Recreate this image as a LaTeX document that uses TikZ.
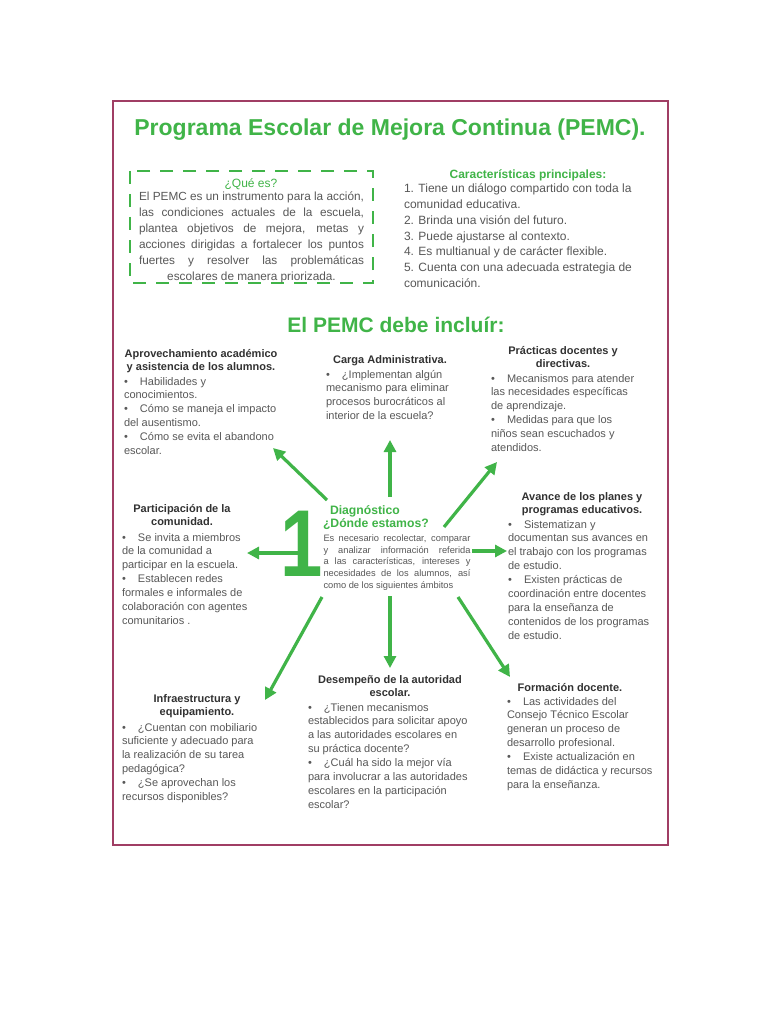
\documentclass[tikz,border=0pt]{standalone}
\usepackage{graphicx}
\usepackage{fontspec}
\setmainfont{Liberation Sans}
\usetikzlibrary{arrows.meta}
\definecolor{pgreen}{RGB}{64,180,72}
\definecolor{pmaroon}{RGB}{160,62,100}
\definecolor{ptxt}{RGB}{88,88,88}
\definecolor{phd}{RGB}{50,50,50}
\newcommand{\bul}{\makebox[16pt][l]{•}}
\newcommand{\jl}[2]{\makebox[#1][s]{#2}}
\begin{document}
\begin{tikzpicture}[x=1pt,y=-1pt,
  every node/.style={inner sep=0pt, outer sep=0pt},
  hdtext/.style={font=\fontsize{11}{13.9}\selectfont\bfseries, text=phd, anchor=base},
  bodytext/.style={font=\fontsize{11}{13.9}\selectfont, text=ptxt, anchor=base west},
  arr/.style={draw=pgreen, line width=3.2pt, -{Triangle[length=12pt,width=12pt]}}
]
\useasboundingbox (0,0) rectangle (768,1024);
\fill[white] (0,0) rectangle (768,1024);
\draw[pmaroon, line width=2.8pt] (113,101) rectangle (668,845);

% title
\node[font=\fontsize{23}{27}\selectfont\bfseries, text=pgreen, anchor=base] (title) at (390,136) {Programa Escolar de Mejora Continua (PEMC).};

% Que es box
\draw[pgreen, line width=2.8pt, dash pattern=on 13pt off 10pt] (130,171) rectangle (373,283);
\node[font=\fontsize{12}{15}\selectfont, text=pgreen, anchor=base] (qtitle) at (251,188) {¿Qué es?};
\node[font=\fontsize{11.8}{15.9}\selectfont, text=ptxt, anchor=base west] (qbody) at (139,201) {\parbox[t]{225pt}{%
\jl{225pt}{El PEMC es un instrumento para la acción,}\\
\jl{225pt}{las condiciones actuales de la escuela,}\\
\jl{225pt}{plantea objetivos de mejora, metas y}\\
\jl{225pt}{acciones dirigidas a fortalecer los puntos}\\
\jl{225pt}{fuertes y resolver las problemáticas}\\
\makebox[225pt][c]{escolares de manera priorizada.}}};

% Caracteristicas
\node[font=\fontsize{12}{15}\selectfont\bfseries, text=pgreen, anchor=base] (ctitle) at (528,179) {Características principales:};
\node[font=\fontsize{12}{15.7}\selectfont, text=ptxt, anchor=base west] (cbody) at (404,193) {\parbox[t]{260pt}{\raggedright
1. Tiene un diálogo compartido con toda la\\
comunidad educativa.\\
2. Brinda una visión del futuro.\\
3. Puede ajustarse al contexto.\\
4. Es multianual y de carácter flexible.\\
5. Cuenta con una adecuada estrategia de\\
comunicación.}};

% subtitle
\node[font=\fontsize{21}{25}\selectfont\bfseries, text=pgreen, anchor=base] (sub) at (396,332) {El PEMC debe incluír:};

% center
\node[font=\fontsize{95}{95}\selectfont\bfseries, text=pgreen, anchor=base west] (one) at (280.5,576) {\scalebox{0.8}[1]{1}\hspace*{-10pt}};
\node[font=\fontsize{12.2}{14}\selectfont\bfseries, text=pgreen, anchor=base west] (diag) at (330,514) {Diagnóstico};
\node[font=\fontsize{12.2}{14}\selectfont\bfseries, text=pgreen, anchor=base west] (donde) at (323,527) {¿Dónde estamos?};
\node[font=\fontsize{9.3}{11.7}\selectfont, text=ptxt, anchor=base west] (dbody) at (323.5,541.5) {\parbox[t]{147pt}{%
\jl{147pt}{Es necesario recolectar, comparar}\\
\jl{147pt}{y analizar información referida}\\
\jl{147pt}{a las características, intereses y}\\
\jl{147pt}{necesidades de los alumnos, así}\\
como de los siguientes ámbitos}};

% Aprovechamiento
\node[hdtext] (h1) at (201,357) {\parbox[t]{220pt}{\centering Aprovechamiento académico\\ y asistencia de los alumnos.}};
\node[bodytext] (b1) at (124,385) {\parbox[t]{250pt}{\raggedright
\bul Habilidades y\\
conocimientos.\\
\bul Cómo se maneja el impacto\\
del ausentismo.\\
\bul Cómo se evita el abandono\\
escolar.}};

% Carga
\node[hdtext] (h2) at (390,363) {\parbox[t]{220pt}{\centering Carga Administrativa.}};
\node[bodytext] (b2) at (326,378) {\parbox[t]{250pt}{\raggedright
\bul ¿Implementan algún\\
mecanismo para eliminar\\
procesos burocráticos al\\
interior de la escuela?}};

% Practicas
\node[hdtext] (h3) at (563,354) {\parbox[t]{220pt}{\centering Prácticas docentes y\\ directivas.}};
\node[bodytext] (b3) at (491,382) {\parbox[t]{250pt}{\raggedright
\bul Mecanismos para atender\\
las necesidades específicas\\
de aprendizaje.\\
\bul Medidas para que los\\
niños sean escuchados y\\
atendidos.}};

% Participacion
\node[hdtext] (h4) at (182,512) {\parbox[t]{220pt}{\centering Participación de la\\ comunidad.}};
\node[bodytext] (b4) at (122,541) {\parbox[t]{250pt}{\raggedright
\bul Se invita a miembros\\
de la comunidad a\\
participar en la escuela.\\
\bul Establecen redes\\
formales e informales de\\
colaboración con agentes\\
comunitarios .}};

% Avance
\node[hdtext] (h5) at (582,500) {\parbox[t]{220pt}{\centering Avance de los planes y\\ programas educativos.}};
\node[bodytext] (b5) at (508,528) {\parbox[t]{250pt}{\raggedright
\bul Sistematizan y\\
documentan sus avances en\\
el trabajo con los programas\\
de estudio.\\
\bul Existen prácticas de\\
coordinación entre docentes\\
para la enseñanza de\\
contenidos de los programas\\
de estudio.}};

% Infraestructura
\node[hdtext] (h6) at (197,702) {\parbox[t]{220pt}{\centering Infraestructura y\\ equipamiento.}};
\node[bodytext] (b6) at (122,731) {\parbox[t]{250pt}{\raggedright
\bul ¿Cuentan con mobiliario\\
suficiente y adecuado para\\
la realización de su tarea\\
pedagógica?\\
\bul ¿Se aprovechan los\\
recursos disponibles?}};

% Desempeno
\node[hdtext] (h7) at (390,683) {\parbox[t]{220pt}{\centering Desempeño de la autoridad\\ escolar.}};
\node[bodytext] (b7) at (308,711) {\parbox[t]{250pt}{\raggedright
\bul ¿Tienen mecanismos\\
establecidos para solicitar apoyo\\
a las autoridades escolares en\\
su práctica docente?\\
\bul ¿Cuál ha sido la mejor vía\\
para involucrar a las autoridades\\
escolares en la participación\\
escolar?}};

% Formacion
\node[hdtext] (h8) at (570,691) {\parbox[t]{220pt}{\centering Formación docente.}};
\node[bodytext] (b8) at (507,705) {\parbox[t]{250pt}{\raggedright
\bul Las actividades del\\
Consejo Técnico Escolar\\
generan un proceso de\\
desarrollo profesional.\\
\bul Existe actualización en\\
temas de didáctica y recursos\\
para la enseñanza.}};

% arrows
\coordinate (sUL) at (327,500); \coordinate (eUL) at (273,448);
\coordinate (sU) at (390,497);  \coordinate (eU) at (390,440);
\coordinate (sUR) at (444,527); \coordinate (eUR) at (497,462);
\coordinate (sL) at (306,553);  \coordinate (eL) at (247,553);
\coordinate (sR) at (472,551);  \coordinate (eR) at (507,551);
\coordinate (sDL) at (322,597); \coordinate (eDL) at (265,700);
\coordinate (sD) at (390,596);  \coordinate (eD) at (390,668);
\coordinate (sDR) at (458,597); \coordinate (eDR) at (510,677);
\draw[arr] (sUL) -- (eUL);
\draw[arr] (sU) -- (eU);
\draw[arr] (sUR) -- (eUR);
\draw[arr] (sL) -- (eL);
\draw[arr] (sR) -- (eR);
\draw[arr] (sDL) -- (eDL);
\draw[arr] (sD) -- (eD);
\draw[arr] (sDR) -- (eDR);
\end{tikzpicture}
\end{document}
